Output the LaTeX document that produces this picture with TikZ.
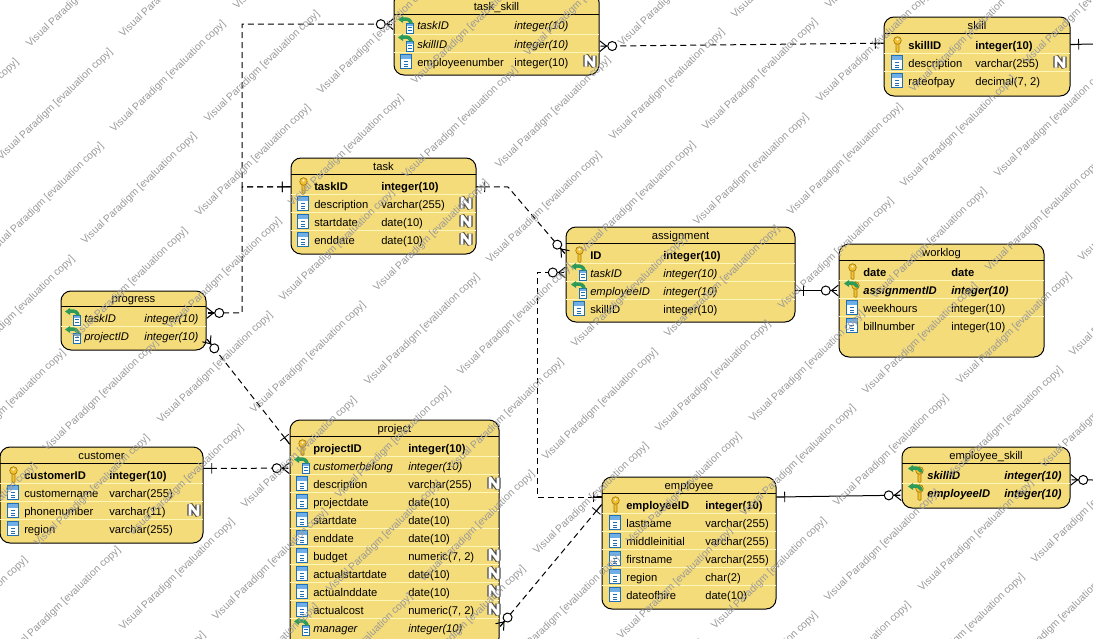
\documentclass[tikz,border=0pt]{standalone}
\usepackage{fontspec}
\setmainfont{Liberation Sans}
\usetikzlibrary{arrows.meta}
\definecolor{tablefill}{HTML}{F5DC7A}
\definecolor{rowline}{HTML}{FFF6B8}
\definecolor{iconblue}{HTML}{1F6FB5}
\definecolor{iconsky}{HTML}{6FAEE6}
\definecolor{keygold}{HTML}{F2C230}
\definecolor{keyedge}{HTML}{A87B10}
\definecolor{fkgreen}{HTML}{2C9A58}
\begin{document}
\begin{tikzpicture}[x=0.75pt,y=-0.75pt]
\tikzset{OneEnd/.tip={Bar[width=8pt,line width=0.6pt,sep=0pt]Rectangle[length=6pt,width=0.6pt]}}
\tikzset{ManyEnd/.tip={Circle[open,fill=white,length=7.5pt,width=7.5pt,line width=0.75pt,sep=0pt]Rectangle[length=5pt,width=0.6pt,sep=-5pt]Straight Barb[reversed,length=5pt,width=8pt,line width=0.75pt]}}
\tikzset{link/.style={draw=black,line width=0.75pt}}
\tikzset{dashlink/.style={link,dash pattern=on 4.5pt off 3pt}}
\tikzset{tablebox/.style={draw=black,fill=tablefill,line width=0.75pt,rounded corners=7.5pt,inner sep=0pt}}
\tikzset{rowbox/.style={inner sep=0pt,minimum height=13.5pt}}
\tikzset{celltext/.style={inner sep=0pt,anchor=base west,font=\fontsize{8.4}{10}\selectfont}}
\tikzset{every row pk/.style={font=\fontsize{8.4}{10}\selectfont\bfseries}}
\tikzset{every row fk/.style={font=\fontsize{8.4}{10}\selectfont\itshape}}
\tikzset{every row pf/.style={font=\fontsize{8.4}{10}\selectfont\bfseries\itshape}}
\tikzset{stamp/.style={inner sep=0pt,anchor=base west,rotate=44,text=gray!80,font=\fontsize{7.75}{9}\selectfont}}
\tikzset{
  flag n/.pic={
    \draw[gray!60!black,line width=3.8pt,miter limit=2] (2,5) -- (2,-6) -- (10,5) -- (10,-6);
    \draw[white,line width=2.1pt,miter limit=2] (2,5) -- (2,-6) -- (10,5) -- (10,-6);
  },
  flag o/.pic={},
  icon col/.pic={
    \fill[iconblue] (0,-8) rectangle (12,7);
    \fill[iconsky] (1,-7) rectangle (11,-3);
    \fill[white] (1,-3) rectangle (11,6);
    \foreach \dd in {-1,2,4.5} \fill[iconblue] (4,\dd) rectangle (8,\dd+1);
  },
  icon pk/.pic={
    \draw[keyedge,fill=keygold,line width=0.5pt] (5,-1) -- (5,7) -- (7,8) -- (8,7) -- (8,-1) -- cycle;
    \draw[keyedge,fill=keygold,line width=0.5pt] (6.5,-4) circle [radius=3.8];
    \fill[white] (6.5,-5) circle [radius=1.2];
  },
  arrow fk/.pic={
    \fill[fkgreen] (-2,-6) -- (3,-9.5) -- (3,-8) .. controls (8,-9) and (12,-7) .. (13,-2) -- (10,-2) .. controls (9,-5) and (6,-5) .. (3,-4.5) -- (3,-2.5) -- cycle;
  },
  icon fk/.pic={
    \fill[iconblue] (6,-3) rectangle (14,8);
    \fill[iconsky] (7,-2) rectangle (13,0);
    \fill[white] (7,0) rectangle (13,7);
    \foreach \dd in {1.5,4} \fill[iconblue] (8,\dd) rectangle (12,\dd+1.2);
    \pic {arrow fk};
  },
  icon pf/.pic={
    \draw[keyedge,fill=keygold,line width=0.5pt] (8,-1) -- (8,7) -- (10,8) -- (11,7) -- (11,-1) -- cycle;
    \draw[keyedge,fill=keygold,line width=0.5pt] (9.5,-4) circle [radius=3.8];
    \fill[white] (9.5,-5) circle [radius=1.2];
    \pic {arrow fk};
  },
}
\useasboundingbox (0,0) rectangle (1093,639);
\clip (0,0) rectangle (1093,639);

\foreach \tbl/\title/\xa/\xb/\ya/\yb/\yh/\tx/\nx/\fx/\rows in {%
  taskskill/task\_skill/394/599/-8/75/14/417/514/584/{fk/taskID/integer(10)/o,fk/skillID/integer(10)/o,col/employeenumber/integer(10)/n},%
  skill/skill/884/1070/17/96/33/908/975/1054/{pk/skillID/integer(10)/o,col/description/varchar(255)/n,col/rateofpay/{decimal(7, 2)}/o},%
  task/task/291/476/158/254/174/314/381/460/{pk/taskID/integer(10)/o,col/description/varchar(255)/n,col/startdate/date(10)/n,col/enddate/date(10)/n},%
  assignment/assignment/566/795/227/322/243/590/663/0/{pk/ID/integer(10)/o,fk/taskID/integer(10)/o,fk/employeeID/integer(10)/o,col/skillID/integer(10)/o},%
  worklog/worklog/839/1044/244/357/260/863/951/0/{pk/date/date/o,pf/assignmentID/integer(10)/o,col/weekhours/integer(10)/o,col/billnumber/integer(10)/o},%
  progress/progress/61/206/291/350/306/84/144/0/{fk/taskID/integer(10)/o,fk/projectID/integer(10)/o},%
  customer/customer/0/203/447/543/463/24/109/188/{pk/customerID/integer(10)/o,col/customername/varchar(255)/o,col/phonenumber/varchar(11)/n,col/region/varchar(255)/o},%
  project/project/290/499/420/648/436/313/408/488/{pk/projectID/integer(10)/o,fk/customerbelong/integer(10)/o,col/description/varchar(255)/n,col/projectdate/date(10)/o,col/startdate/date(10)/o,col/enddate/date(10)/o,col/budget/{numeric(7, 2)}/n,col/actualstartdate/date(10)/n,col/actualnddate/date(10)/n,col/actualcost/{numeric(7, 2)}/n,fk/manager/integer(10)/o},%
  employee/employee/602/776/477/609/493/626/705/0/{pk/employeeID/integer(10)/o,col/lastname/varchar(255)/o,col/middleinitial/varchar(255)/o,col/firstname/varchar(255)/o,col/region/char(2)/o,col/dateofhire/date(10)/o},%
  empskill/employee\_skill/902/1070/447/508/463/927/1004/0/{pf/skillID/integer(10)/o,pf/employeeID/integer(10)/o}}
{
  \pgfmathsetmacro{\cx}{(\xa+\xb)/2}
  \pgfmathsetmacro{\cy}{(\ya+\yb)/2}
  \pgfmathsetmacro{\boxw}{(\xb-\xa)*0.75}
  \pgfmathsetmacro{\boxh}{(\yb-\ya)*0.75}
  \node[tablebox,minimum width=\boxw pt,minimum height=\boxh pt] (\tbl) at (\cx,\cy) {};
  \draw[line width=0.75pt] (\xa,\yh) -- (\xb,\yh);
  \node[celltext,anchor=base] (\tbl-title) at (\cx,\yh-3.5) {\title};
  \foreach \kind/\col/\type/\flag [count=\y] in \rows {
    \pgfmathsetmacro{\ry}{\yh+11.5+18*(\y-1)}
    \node[rowbox,minimum width=\boxw pt] (\tbl-\y) at (\cx,\ry) {};
    \ifnum\y>1 \draw[rowline,line width=0.75pt] (\tbl-\y.north west) -- (\tbl-\y.north east); \fi
    \pic at (\tx-17,\ry) {icon \kind};
    \pic at (\fx,\ry) {flag \flag};
    \node[celltext,every row \kind/.try] (\tbl-\y-name) at (\tx,\ry+4.5) {\col};
    \node[celltext,every row \kind/.try] (\tbl-\y-type) at (\nx,\ry+4.5) {\type};
  }
}

\coordinate (bendleft) at (242,187);
\coordinate (bendright) at (508,187);
\coordinate (bendmid) at (537,400);
\coordinate (skillout) at (1093,44);
\coordinate (empskillout) at (1093,480);

\draw[dashlink,{OneEnd}-{ManyEnd}] ([yshift=-1pt]task-1.west) -- (bendleft) |- ([yshift=1pt]taskskill-1.west);
\draw[dashlink,{OneEnd}-{ManyEnd}] ([yshift=-1pt]task-1.west) -- (bendleft) |- ([yshift=3.4pt]progress-1.east);
\draw[dashlink,{OneEnd}-{ManyEnd}] ([yshift=-1pt]task-1.east) -- (bendright) -- (assignment-1.west);
\draw[dashlink,{OneEnd}-{ManyEnd}] ([yshift=1pt]skill-1.west) -- ([yshift=-2pt]taskskill-2.east);
\draw[link,{OneEnd}-] (skill-1.east) -- (skillout);
\draw[link,{OneEnd}-{ManyEnd}] (assignment-3.east) -- ([yshift=-0.75pt]worklog-2.west);
\draw[dashlink,{OneEnd}-{ManyEnd}] ([yshift=2.5pt]project-1.west) -- ([yshift=-2pt]progress-2.east);
\draw[dashlink,{OneEnd}-{ManyEnd}] ([yshift=4.6pt]customer-1.east) -- ([yshift=-2pt]project-2.west);
\draw[dashlink,{OneEnd}-{ManyEnd}] ([yshift=5.6pt]employee-1.west) -| (bendmid) |- (assignment-2.west);
\draw[dashlink,{OneEnd}-{ManyEnd}] (employee-1.west) -- (project-11.east);
\draw[link,{OneEnd}-{ManyEnd}] ([yshift=5.6pt]employee-1.east) -- ([yshift=-2pt]empskill-2.west);
\draw[link,-{ManyEnd}] (empskillout) -- ([yshift=-4pt]empskill-1.east);

\foreach \i in {-1,...,7}
  \foreach \j in {-1,...,5}
    \foreach \dx/\dy [count=\k] in {0/0,93/-10,-29/113,84/85}
      \node[stamp] (stamp-\i-\j-\k) at (30+207*\i-38*\j+\dx,48-38*\i+207*\j+\dy) {Visual Paradigm [evaluation copy]};
\end{tikzpicture}
\end{document}
